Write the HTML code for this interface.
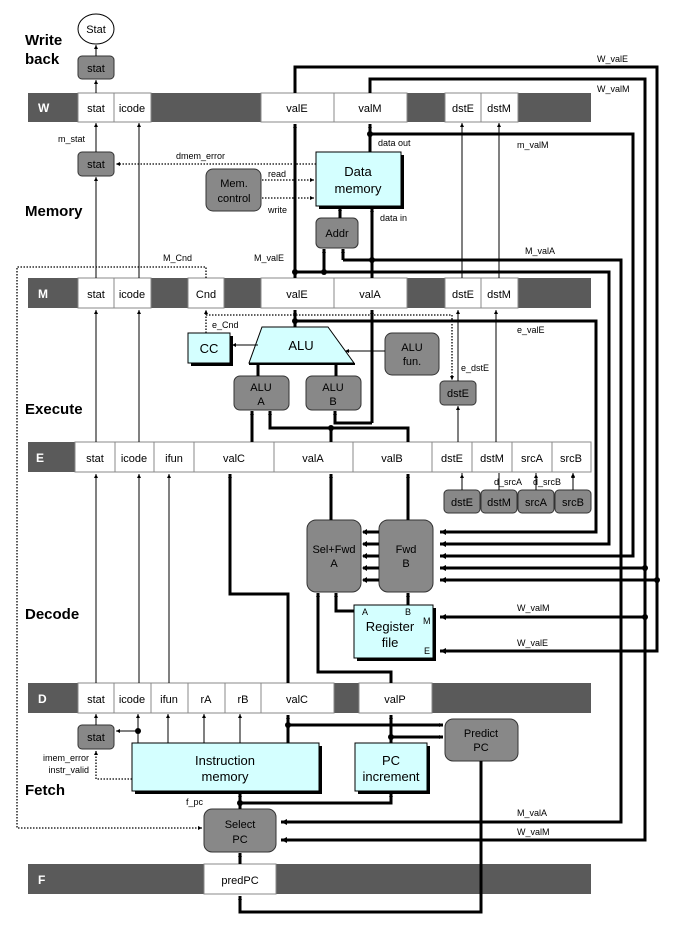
<!DOCTYPE html>
<html><head><meta charset="utf-8"><style>
html,body{margin:0;padding:0;background:#fff;width:677px;height:946px;overflow:hidden}
svg{display:block;font-family:"Liberation Sans",sans-serif}
.c{fill:#fff;stroke:#888;stroke-width:1}
.t{font-size:11px;text-anchor:middle;fill:#000}
.l{font-size:9px;fill:#000}
.g{fill:#888;stroke:#333;stroke-width:1}
.cy{fill:#d4ffff;stroke:#000;stroke-width:1}
.th{stroke:#000;stroke-width:3;fill:none}
.tn{stroke:#000;stroke-width:1;fill:none}
.dt{stroke:#000;stroke-width:1.3;fill:none;stroke-dasharray:1.5 1.5}
.st{font-size:15px;font-weight:bold;fill:#000}
.bl{font-size:12px;font-weight:bold;fill:#fff}
</style></head><body>
<svg width="677" height="946" viewBox="0 0 677 946">
<defs>
<marker id="a" markerUnits="userSpaceOnUse" markerWidth="8" markerHeight="8" refX="6" refY="4" orient="auto"><path d="M0,1 L6,4 L0,7 z" fill="#000"/></marker>
<marker id="s" markerUnits="userSpaceOnUse" markerWidth="6" markerHeight="6" refX="4" refY="3" orient="auto"><path d="M0,1 L4,3 L0,5 z" fill="#000"/></marker>
</defs>

<!-- stage labels -->
<text class="st" x="25" y="45">Write</text><text class="st" x="25" y="64">back</text>
<text class="st" x="25" y="216">Memory</text>
<text class="st" x="25" y="414">Execute</text>
<text class="st" x="25" y="619">Decode</text>
<text class="st" x="25" y="795">Fetch</text>

<!-- W bar -->
<rect x="28" y="93" width="563" height="29" fill="#5a5a5a"/>
<text class="bl" x="38" y="112">W</text>
<rect class="c" x="78" y="93" width="36" height="29"/><text class="t" x="96" y="112">stat</text>
<rect class="c" x="114" y="93" width="37" height="29"/><text class="t" x="132" y="112">icode</text>
<rect class="c" x="261" y="93" width="73" height="29"/><text class="t" x="297" y="112">valE</text>
<rect class="c" x="334" y="93" width="73" height="29"/><text class="t" x="370" y="112">valM</text>
<rect class="c" x="445" y="93" width="36" height="29"/><text class="t" x="463" y="112">dstE</text>
<rect class="c" x="481" y="93" width="37" height="29"/><text class="t" x="499" y="112">dstM</text>

<!-- M bar -->
<rect x="28" y="278" width="563" height="30" fill="#5a5a5a"/>
<text class="bl" x="38" y="298">M</text>
<rect class="c" x="78" y="278" width="36" height="30"/><text class="t" x="96" y="298">stat</text>
<rect class="c" x="114" y="278" width="37" height="30"/><text class="t" x="132" y="298">icode</text>
<rect class="c" x="188" y="278" width="36" height="30"/><text class="t" x="206" y="298">Cnd</text>
<rect class="c" x="261" y="278" width="73" height="30"/><text class="t" x="297" y="298">valE</text>
<rect class="c" x="334" y="278" width="73" height="30"/><text class="t" x="370" y="298">valA</text>
<rect class="c" x="445" y="278" width="36" height="30"/><text class="t" x="463" y="298">dstE</text>
<rect class="c" x="481" y="278" width="37" height="30"/><text class="t" x="499" y="298">dstM</text>

<!-- E bar -->
<rect x="28" y="442" width="563" height="30" fill="#5a5a5a"/>
<text class="bl" x="36" y="462">E</text>
<rect class="c" x="75" y="442" width="40" height="30"/><text class="t" x="95" y="462">stat</text>
<rect class="c" x="115" y="442" width="39" height="30"/><text class="t" x="134" y="462">icode</text>
<rect class="c" x="154" y="442" width="40" height="30"/><text class="t" x="174" y="462">ifun</text>
<rect class="c" x="194" y="442" width="80" height="30"/><text class="t" x="234" y="462">valC</text>
<rect class="c" x="274" y="442" width="79" height="30"/><text class="t" x="313" y="462">valA</text>
<rect class="c" x="353" y="442" width="79" height="30"/><text class="t" x="392" y="462">valB</text>
<rect class="c" x="432" y="442" width="40" height="30"/><text class="t" x="452" y="462">dstE</text>
<rect class="c" x="472" y="442" width="40" height="30"/><text class="t" x="492" y="462">dstM</text>
<rect class="c" x="512" y="442" width="40" height="30"/><text class="t" x="532" y="462">srcA</text>
<rect class="c" x="552" y="442" width="39" height="30"/><text class="t" x="571" y="462">srcB</text>

<!-- D bar -->
<rect x="28" y="683" width="563" height="30" fill="#5a5a5a"/>
<text class="bl" x="38" y="703">D</text>
<rect class="c" x="78" y="683" width="36" height="30"/><text class="t" x="96" y="703">stat</text>
<rect class="c" x="114" y="683" width="37" height="30"/><text class="t" x="132" y="703">icode</text>
<rect class="c" x="151" y="683" width="37" height="30"/><text class="t" x="169" y="703">ifun</text>
<rect class="c" x="188" y="683" width="37" height="30"/><text class="t" x="206" y="703">rA</text>
<rect class="c" x="225" y="683" width="36" height="30"/><text class="t" x="243" y="703">rB</text>
<rect class="c" x="261" y="683" width="73" height="30"/><text class="t" x="297" y="703">valC</text>
<rect class="c" x="359" y="683" width="73" height="30"/><text class="t" x="395" y="703">valP</text>

<!-- F bar -->
<rect x="28" y="864" width="563" height="30" fill="#5a5a5a"/>
<text class="bl" x="38" y="884">F</text>
<rect class="c" x="204" y="864" width="72" height="30"/><text class="t" x="240" y="884">predPC</text>

<!-- Writeback -->
<ellipse cx="96" cy="29" rx="18" ry="15" fill="#fff" stroke="#000"/><text class="t" x="96" y="33">Stat</text>
<rect class="g" x="78" y="56" width="36" height="23" rx="4"/><text class="t" x="96" y="72">stat</text>
<path class="tn" d="M96,56 V45" marker-end="url(#s)"/>
<path class="tn" d="M96,93 V80" marker-end="url(#s)"/>

<!-- Memory -->
<text class="l" x="58" y="142">m_stat</text>
<rect class="g" x="78" y="152" width="36" height="24" rx="4"/><text class="t" x="96" y="168">stat</text>
<path class="tn" d="M96,152 V123" marker-end="url(#s)"/>
<path class="tn" d="M96,278 V177" marker-end="url(#s)"/>
<path class="tn" d="M139,278 V123" marker-end="url(#s)"/>
<path class="tn" d="M462,278 V123" marker-end="url(#s)"/>
<path class="tn" d="M499,278 V123" marker-end="url(#s)"/>
<text class="l" x="176" y="159">dmem_error</text>
<path class="dt" d="M316,164 H116" marker-end="url(#s)"/>
<rect class="g" x="206" y="169" width="55" height="42" rx="7"/>
<text class="t" x="234" y="187">Mem.</text><text class="t" x="234" y="202">control</text>
<text class="l" x="268" y="177">read</text><text class="l" x="268" y="213">write</text>
<path class="dt" d="M262,180 H314" marker-end="url(#s)"/>
<path class="dt" d="M262,198 H314" marker-end="url(#s)"/>
<rect x="319" y="155" width="85" height="54" fill="#000"/>
<rect class="cy" x="316" y="152" width="85" height="54"/>
<text x="358" y="176" style="font-size:13px;text-anchor:middle">Data</text>
<text x="358" y="193" style="font-size:13px;text-anchor:middle">memory</text>
<text class="l" x="378" y="146">data out</text>
<text class="l" x="380" y="221">data in</text>
<rect class="g" x="316" y="218" width="42" height="30" rx="5"/><text class="t" x="337" y="237">Addr</text>
<path class="th" d="M340,218 V207" marker-end="url(#s)"/>
<path class="th" d="M372,278 V208" marker-end="url(#s)"/>
<path class="th" d="M370,152 V124" marker-end="url(#s)"/>
<path class="th" d="M295,278 V124" marker-end="url(#s)"/>
<path class="th" d="M324,272 V249" marker-end="url(#s)"/>
<path class="th" d="M343,260 V249" marker-end="url(#s)"/>
<text class="l" x="163" y="261">M_Cnd</text>
<text class="l" x="254" y="261">M_valE</text>
<text class="l" x="525" y="254">M_valA</text>
<text class="l" x="517" y="148">m_valM</text>
<text class="l" x="597" y="62">W_valE</text>
<text class="l" x="597" y="92">W_valM</text>

<!-- long thick feedback lines -->
<path class="th" d="M295,93 V67 H657 V651 H440" marker-end="url(#a)"/>
<path class="th" d="M370,93 V79 H645 V840 H281" marker-end="url(#a)"/>
<path class="th" d="M370,134 H633 V556 H440" marker-end="url(#a)"/>
<path class="th" d="M343,260 H621 V822 H281" marker-end="url(#a)"/>
<path class="th" d="M295,272 H609 V544 H440" marker-end="url(#a)"/>
<path class="th" d="M295,321 H596 V532 H440" marker-end="url(#a)"/>
<path class="th" d="M645,568 H440" marker-end="url(#a)"/>
<path class="th" d="M657,580 H440" marker-end="url(#a)"/>
<path class="th" d="M645,617 H440" marker-end="url(#a)"/>
<circle cx="370" cy="134" r="3"/><circle cx="372" cy="260" r="3"/><circle cx="295" cy="272" r="3"/><circle cx="324" cy="272" r="3"/>
<circle cx="295" cy="321" r="3"/><circle cx="645" cy="568" r="3"/><circle cx="657" cy="580" r="3"/><circle cx="645" cy="617" r="3"/>

<!-- M_Cnd dotted -->
<path class="dt" d="M206,278 V267 H17 V828 H202" marker-end="url(#s)"/>
<path class="dt" d="M206,333 V310" marker-end="url(#s)"/>
<path class="dt" d="M206,315 H452 V380" marker-end="url(#s)"/>

<!-- Execute -->
<text class="l" x="212" y="328">e_Cnd</text>
<text class="l" x="517" y="333">e_valE</text>
<text class="l" x="461" y="371">e_dstE</text>
<path class="th" d="M295,327 V310" marker-end="url(#s)"/>
<path d="M262,327 H328 L354,363 H249 Z" fill="#d4ffff" stroke="#000"/>
<path d="M249,364 H355" stroke="#000" stroke-width="2"/>
<text x="301" y="350" style="font-size:13px;text-anchor:middle">ALU</text>
<rect x="191" y="336" width="42" height="30" fill="#000"/>
<rect class="cy" x="188" y="333" width="42" height="30"/><text x="209" y="353" style="font-size:13px;text-anchor:middle">CC</text>
<path class="tn" d="M258,345 H232" marker-end="url(#s)"/>
<rect class="g" x="385" y="333" width="54" height="42" rx="7"/>
<text class="t" x="412" y="351">ALU</text><text class="t" x="412" y="365">fun.</text>
<path class="tn" d="M385,351 H345" marker-end="url(#s)"/>
<rect class="g" x="234" y="376" width="55" height="34" rx="6"/><text class="t" x="261" y="391">ALU</text><text class="t" x="261" y="405">A</text>
<rect class="g" x="306" y="376" width="55" height="34" rx="6"/><text class="t" x="333" y="391">ALU</text><text class="t" x="333" y="405">B</text>
<path class="th" d="M258,376 V364 M336,376 V364"/>
<rect class="g" x="440" y="381" width="36" height="24" rx="4"/><text class="t" x="458" y="397">dstE</text>
<path class="tn" d="M458,381 V310" marker-end="url(#s)"/>
<path class="tn" d="M458,442 V406" marker-end="url(#s)"/>
<path class="tn" d="M496,442 V310" marker-end="url(#s)"/>
<path class="tn" d="M96,442 V310" marker-end="url(#s)"/>
<path class="tn" d="M139,442 V310" marker-end="url(#s)"/>
<path class="th" d="M252,442 V411" marker-end="url(#s)"/>
<path class="th" d="M331,442 V428 H270 V411" marker-end="url(#s)"/>
<path class="th" d="M331,428 H408 V442"/>
<circle cx="331" cy="428" r="3"/>
<path class="th" d="M372,423 H335 V411" marker-end="url(#s)"/>
<path class="th" d="M372,423 V310" marker-end="url(#s)"/>

<!-- below E -->
<text class="l" x="494" y="485">d_srcA</text><text class="l" x="533" y="485">d_srcB</text>
<rect class="g" x="444" y="490" width="36" height="23" rx="4"/><text class="t" x="462" y="506">dstE</text>
<rect class="g" x="481" y="490" width="36" height="23" rx="4"/><text class="t" x="499" y="506">dstM</text>
<rect class="g" x="518" y="490" width="36" height="23" rx="4"/><text class="t" x="536" y="506">srcA</text>
<rect class="g" x="555" y="490" width="36" height="23" rx="4"/><text class="t" x="573" y="506">srcB</text>
<path class="tn" d="M462,490 V473 M499,490 V473 M536,490 V473 M573,490 V473" marker-end="url(#s)"/>
<path class="tn" d="M462,490 V474" marker-end="url(#s)"/>
<path class="tn" d="M536,490 V474" marker-end="url(#s)"/>
<path class="tn" d="M573,490 V474" marker-end="url(#s)"/>

<!-- Decode -->
<rect class="g" x="307" y="520" width="54" height="72" rx="9"/><text class="t" x="334" y="553">Sel+Fwd</text><text class="t" x="334" y="567">A</text>
<rect class="g" x="379" y="520" width="54" height="72" rx="9"/><text class="t" x="406" y="553">Fwd</text><text class="t" x="406" y="567">B</text>
<path class="th" d="M379,532 H363 M379,544 H363 M379,556 H363 M379,568 H363 M379,580 H363"/>
<path d="M362,532 l5,-3 v6z M362,544 l5,-3 v6z M362,556 l5,-3 v6z M362,568 l5,-3 v6z M362,580 l5,-3 v6z"/>
<path class="th" d="M331,520 V474" marker-end="url(#s)"/>
<path class="th" d="M408,520 V474" marker-end="url(#s)"/>
<rect x="357" y="608" width="79" height="53" fill="#000"/>
<rect class="cy" x="354" y="605" width="79" height="53"/>
<text x="390" y="631" style="font-size:13px;text-anchor:middle">Register</text>
<text x="390" y="647" style="font-size:13px;text-anchor:middle">file</text>
<text class="l" x="362" y="615">A</text><text class="l" x="405" y="615">B</text><text class="l" x="423" y="624">M</text><text class="l" x="424" y="654">E</text>
<path class="th" d="M408,605 V593" marker-end="url(#s)"/>
<path class="th" d="M354,611 H336 V593" marker-end="url(#s)"/>
<path class="th" d="M391,683 V672 H318 V593" marker-end="url(#s)"/>
<path class="th" d="M288,683 V594 H230 V474" marker-end="url(#s)"/>
<path class="tn" d="M96,683 V474" marker-end="url(#s)"/>
<path class="tn" d="M139,683 V474" marker-end="url(#s)"/>
<path class="tn" d="M169,683 V474" marker-end="url(#s)"/>
<text class="l" x="517" y="611">W_valM</text>
<text class="l" x="517" y="646">W_valE</text>

<!-- Fetch -->
<rect class="g" x="78" y="725" width="36" height="24" rx="4"/><text class="t" x="96" y="741">stat</text>
<path class="tn" d="M96,725 V714" marker-end="url(#s)"/>
<path class="tn" d="M138,731 H116" marker-end="url(#s)"/>
<circle cx="138" cy="731" r="3"/>
<text class="l" x="89" y="761" text-anchor="end">imem_error</text>
<text class="l" x="89" y="773" text-anchor="end">instr_valid</text>
<path class="dt" d="M132,779 H96 V751" marker-end="url(#s)"/>
<rect x="135" y="746" width="187" height="48" fill="#000"/>
<rect class="cy" x="132" y="743" width="187" height="48"/>
<text x="225" y="765" style="font-size:13px;text-anchor:middle">Instruction</text>
<text x="225" y="781" style="font-size:13px;text-anchor:middle">memory</text>
<rect x="358" y="746" width="72" height="48" fill="#000"/>
<rect class="cy" x="355" y="743" width="72" height="48"/>
<text x="391" y="765" style="font-size:13px;text-anchor:middle">PC</text>
<text x="391" y="781" style="font-size:13px;text-anchor:middle">increment</text>
<rect class="g" x="445" y="719" width="73" height="42" rx="8"/><text class="t" x="481" y="737">Predict</text><text class="t" x="481" y="751">PC</text>
<path class="tn" d="M138,743 V714" marker-end="url(#s)"/>
<path class="tn" d="M168,743 V714" marker-end="url(#s)"/>
<path class="tn" d="M204,743 V714" marker-end="url(#s)"/>
<path class="tn" d="M240,743 V714" marker-end="url(#s)"/>
<path class="th" d="M288,743 V715" marker-end="url(#s)"/>
<path class="th" d="M391,743 V715" marker-end="url(#s)"/>
<path class="th" d="M288,725 H443" marker-end="url(#s)"/>
<path class="th" d="M391,737 H443" marker-end="url(#s)"/>
<circle cx="288" cy="725" r="3"/><circle cx="391" cy="737" r="3"/>
<path class="th" d="M481,761 V912 H240 V896" marker-end="url(#s)"/>
<rect class="g" x="204" y="809" width="72" height="43" rx="8"/><text class="t" x="240" y="828">Select</text><text class="t" x="240" y="843">PC</text>
<path class="th" d="M240,864 V853" marker-end="url(#s)"/>
<path class="th" d="M240,809 V793" marker-end="url(#s)"/>
<path class="th" d="M240,803 H391 V793" marker-end="url(#s)"/>
<circle cx="240" cy="803" r="3"/>
<text class="l" x="186" y="805">f_pc</text>
<text class="l" x="517" y="816">M_valA</text>
<text class="l" x="517" y="835">W_valM</text>
</svg>
</body></html>
